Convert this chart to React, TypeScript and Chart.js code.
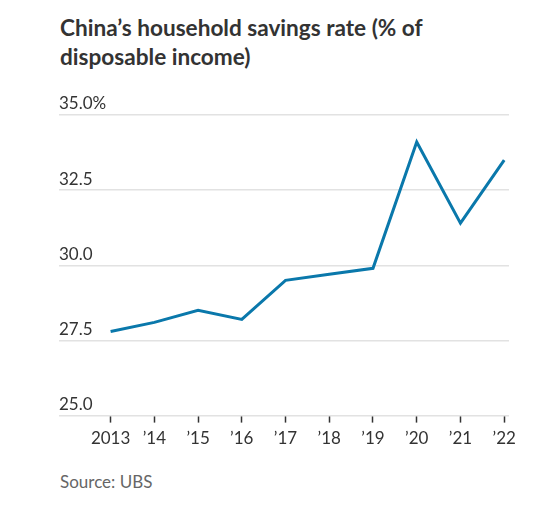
import React, { useEffect, useRef } from "react";
import { Chart, registerables } from "chart.js";

Chart.register(...registerables);

const years = [2013, 2014, 2015, 2016, 2017, 2018, 2019, 2020, 2021, 2022];
const savingsRate = [27.8, 28.1, 28.5, 28.2, 29.5, 29.7, 29.9, 34.1, 31.4, 33.5];
const yTicks = [25, 27.5, 30, 32.5, 35];

const FONT = "Lato, 'Noto Sans', sans-serif";

export default function App() {
  const ref = useRef<HTMLCanvasElement | null>(null);

  useEffect(() => {
    if (!ref.current) return;
    const chart = new Chart(ref.current, {
      type: "line",
      data: {
        datasets: [
          {
            data: years.map((y, i) => ({ x: y, y: savingsRate[i] })),
            borderColor: "#0a78ab",
            borderWidth: 3,
            pointRadius: 0,
            tension: 0,
            fill: false,
          },
        ],
      },
      options: {
        animation: false,
        responsive: false,
        maintainAspectRatio: false,
        layout: { padding: { left: 51, right: 29, top: 37, bottom: 3 } },
        plugins: { legend: { display: false }, tooltip: { enabled: false } },
        scales: {
          x: {
            type: "linear",
            min: 2011.82,
            max: 2022.11,
            afterBuildTicks: (axis: any) => {
              axis.ticks = years.map((v) => ({ value: v }));
            },
            border: { display: false },
            grid: {
              drawOnChartArea: false,
              drawTicks: true,
              tickLength: 7,
              tickColor: "#333",
              tickWidth: 1.5,
            },
            ticks: {
              autoSkip: false,
              maxRotation: 0,
              padding: 6,
              color: "#333",
              font: { family: FONT, size: 17 },
              callback: (v: any) => (v === 2013 ? "2013" : "\u2019" + String(v).slice(2)),
            },
          },
          y: {
            min: 25,
            max: 35,
            afterBuildTicks: (axis: any) => {
              axis.ticks = yTicks.map((v) => ({ value: v }));
            },
            border: { display: false },
            grid: {
              color: "#e2e2e2",
              lineWidth: 1.5,
              drawTicks: false,
            },
            ticks: {
              mirror: true,
              padding: 0,
              labelOffset: -11,
              color: "#333",
              font: { family: FONT, size: 17 },
              callback: (v: any) => (v === 35 ? "35.0%" : Number(v).toFixed(1)),
            },
          },
        },
      },
    });
    return () => chart.destroy();
  }, []);

  return (
    <div style={{ position: "relative", width: 530, height: 492, fontFamily: FONT }}>
      <div
        style={{
          position: "absolute",
          left: 52,
          top: 5,
          width: 440,
          fontSize: 22.6,
          fontWeight: 700,
          lineHeight: "29px",
          color: "#333",
        }}
      >
        China’s household savings rate (% of disposable income)
      </div>
      <canvas
        ref={ref}
        width={530}
        height={380}
        style={{ position: "absolute", left: 0, top: 70, width: 530, height: 380 }}
      />
      <div
        style={{
          position: "absolute",
          left: 52,
          top: 463,
          fontSize: 17,
          color: "#666",
        }}
      >
        Source: UBS
      </div>
    </div>
  );
}
